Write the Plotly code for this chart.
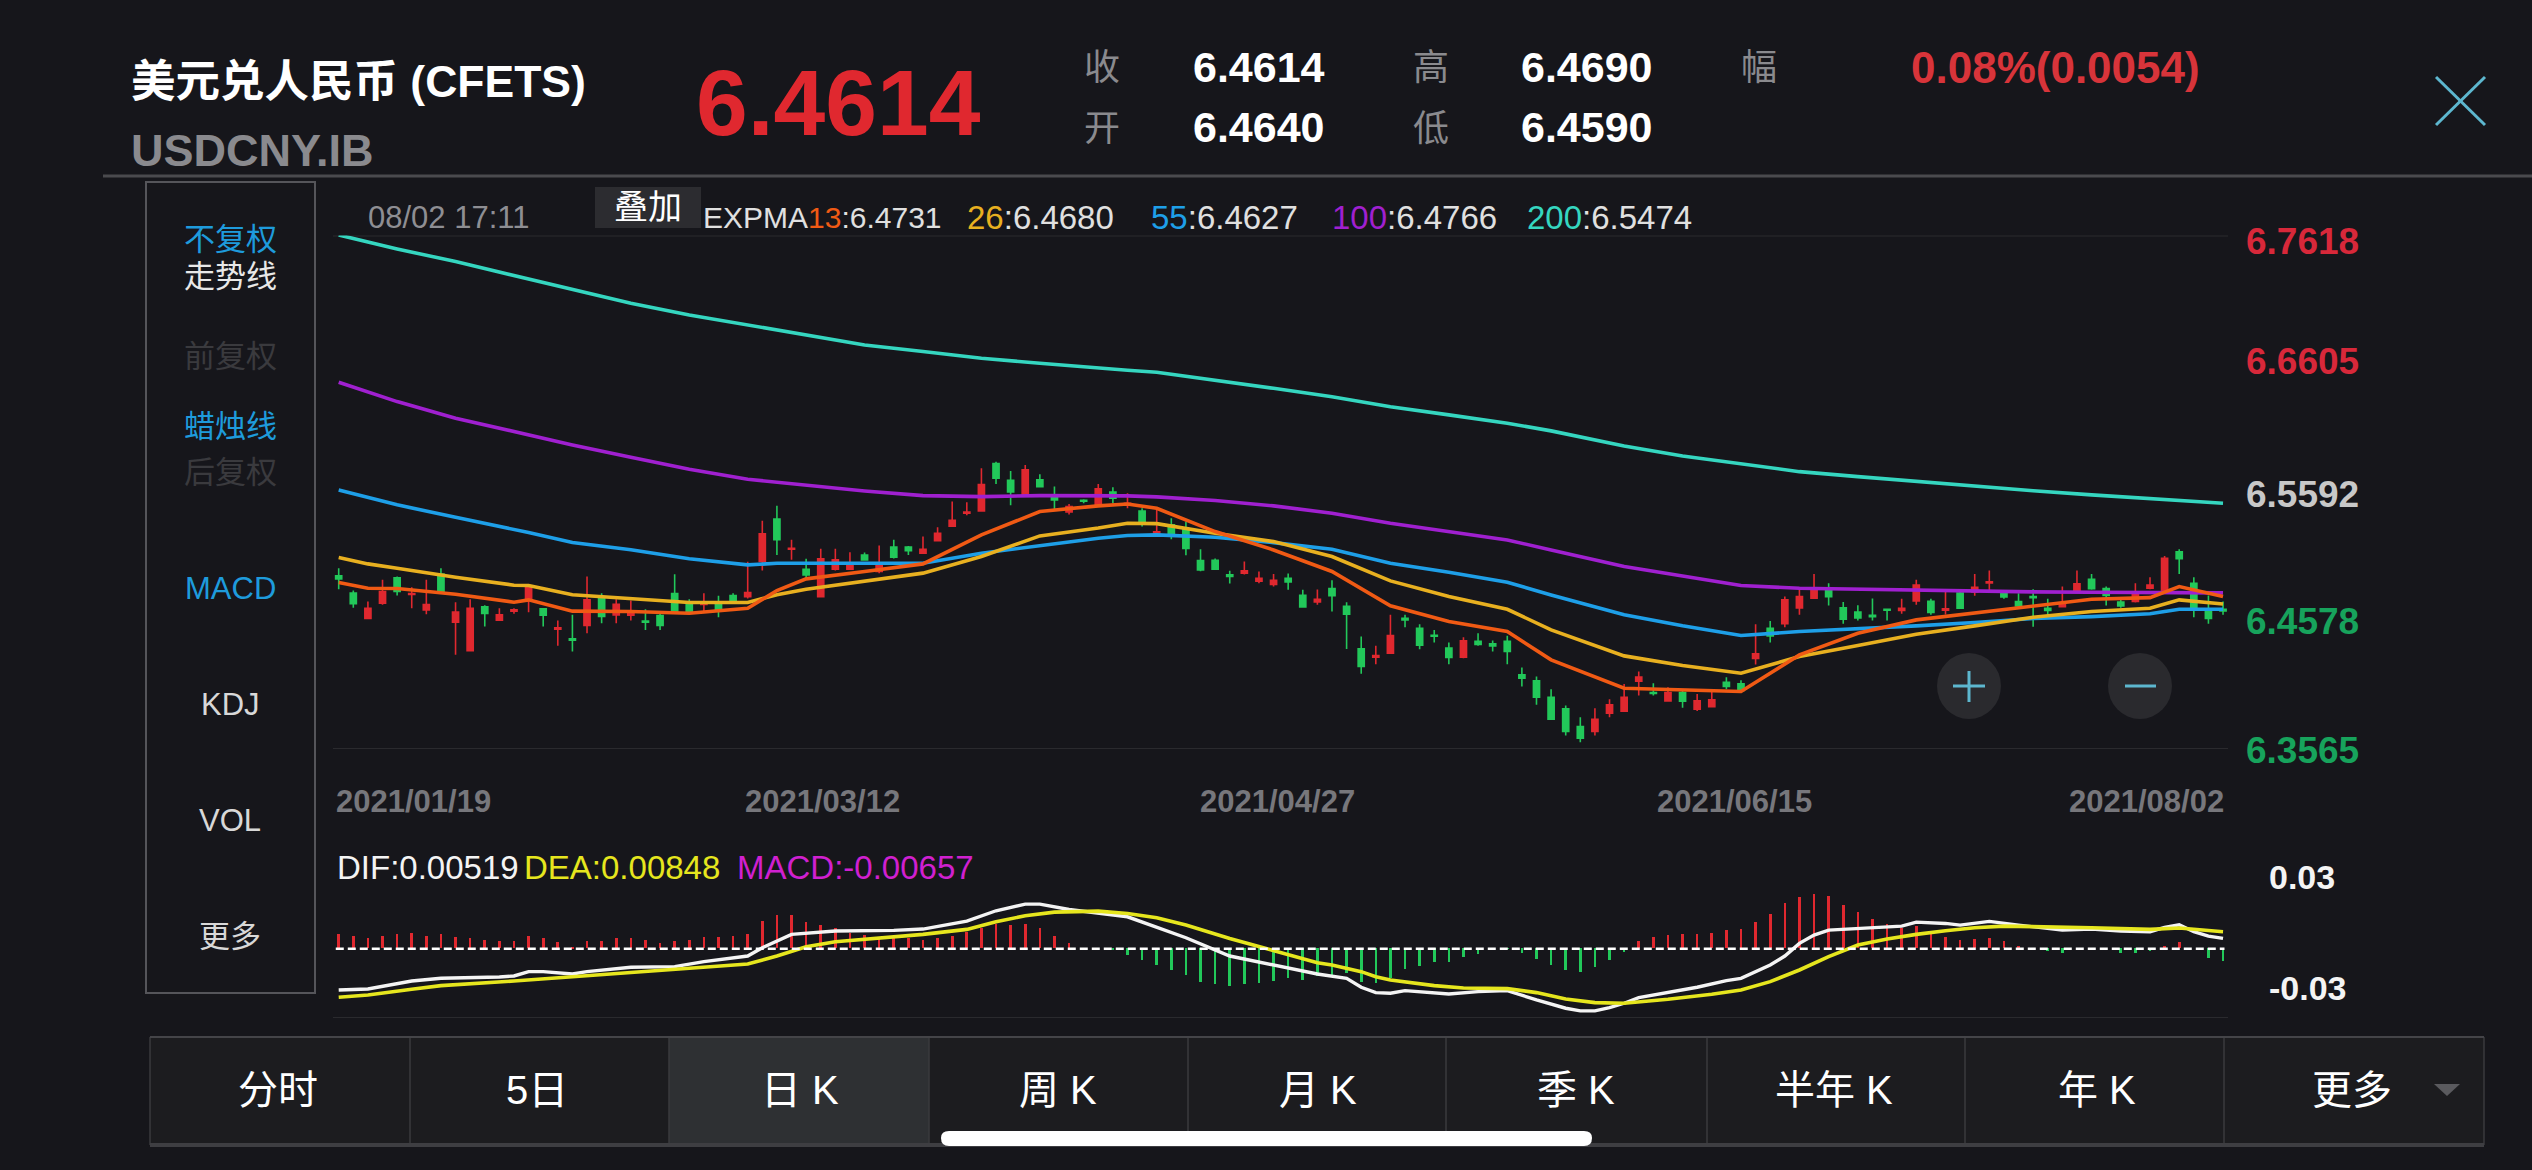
import plotly.graph_objects as go

W, H = 2532, 1170
BG = "#16161b"
RED = "#e0282f"
GREEN = "#22c85a"
CHROME_BLUE = "#1e9bdc"
ICON_BLUE = "#5db7cf"
FONT = "Liberation Sans, Noto Sans CJK SC, sans-serif"

# candles (130 sessions, 2021/01/19 to 2021/08/02)
opens = [
    6.4932, 6.4795, 6.4595, 6.4716, 6.4916, 6.4784, 6.4663, 6.4945, 6.4566, 6.4340,
    6.4687, 6.4582, 6.4653, 6.4737, 6.4671, 6.4511, 6.4434, 6.4540, 6.4763, 6.4624,
    6.4621, 6.4574, 6.4619, 6.4792, 6.4716, 6.4705, 6.4721, 6.4776, 6.4768, 6.5045,
    6.5379, 6.5142, 6.4984, 6.4768, 6.4984, 6.4984, 6.5095, 6.4966, 6.5158, 6.5158,
    6.5110, 6.5210, 6.5323, 6.5426, 6.5444, 6.5818, 6.5686, 6.5576, 6.5689, 6.5555,
    6.5436, 6.5528, 6.5492, 6.5594, 6.5494, 6.5444, 6.5268, 6.5334, 6.5305, 6.5052,
    6.5055, 6.4939, 6.4952, 6.4889, 6.4863, 6.4913, 6.4779, 6.4726, 6.4831, 6.4692,
    6.4355, 6.4290, 6.4321, 6.4597, 6.4518, 6.4463, 6.4361, 6.4290, 6.4416, 6.4395,
    6.4416, 6.4150, 6.4103, 6.3974, 6.3882, 6.3743, 6.3703, 6.3848, 6.3864, 6.4100,
    6.4011, 6.3945, 6.4011, 6.3879, 6.3898, 6.4092, 6.4079, 6.4279, 6.4518, 6.4553,
    6.4679, 6.4755, 6.4821, 6.4679, 6.4645, 6.4621, 6.4668, 6.4658, 6.4734, 6.4731,
    6.4660, 6.4795, 6.4805, 6.4876, 6.4795, 6.4729, 6.4768, 6.4676, 6.4689, 6.4808,
    6.4905, 6.4831, 6.4724, 6.4729, 6.4834, 6.4816, 6.5121, 6.4873, 6.4658, 6.4668,
]
highs = [
    6.4992, 6.4816, 6.4729, 6.4900, 6.4926, 6.4842, 6.4900, 6.4992, 6.4724, 6.4747,
    6.4700, 6.4676, 6.4676, 6.4861, 6.4676, 6.4579, 6.4624, 6.4926, 6.4795, 6.4747,
    6.4737, 6.4669, 6.4637, 6.4945, 6.4747, 6.4795, 6.4774, 6.4795, 6.5042, 6.5366,
    6.5484, 6.5216, 6.5066, 6.5145, 6.5145, 6.5118, 6.5116, 6.5171, 6.5216, 6.5168,
    6.5242, 6.5316, 6.5518, 6.5513, 6.5781, 6.5833, 6.5760, 6.5807, 6.5734, 6.5636,
    6.5499, 6.5536, 6.5657, 6.5631, 6.5584, 6.5465, 6.5452, 6.5386, 6.5360, 6.5142,
    6.5068, 6.4971, 6.5044, 6.4966, 6.4947, 6.4950, 6.4821, 6.4824, 6.4897, 6.4724,
    6.4453, 6.4379, 6.4624, 6.4624, 6.4550, 6.4505, 6.4405, 6.4447, 6.4479, 6.4421,
    6.4458, 6.4208, 6.4137, 6.4037, 6.3908, 6.3816, 6.3887, 6.3958, 6.4079, 6.4177,
    6.4084, 6.4053, 6.4032, 6.4000, 6.4032, 6.4132, 6.4108, 6.4550, 6.4576, 6.4768,
    6.4834, 6.4947, 6.4873, 6.4726, 6.4700, 6.4753, 6.4674, 6.4750, 6.4900, 6.4750,
    6.4805, 6.4821, 6.4947, 6.4973, 6.4816, 6.4795, 6.4826, 6.4750, 6.4847, 6.4973,
    6.4947, 6.4847, 6.4742, 6.4873, 6.4921, 6.5089, 6.5142, 6.4921, 6.4776, 6.4729,
]
lows = [
    6.4826, 6.4679, 6.4590, 6.4703, 6.4776, 6.4676, 6.4629, 6.4795, 6.4308, 6.4335,
    6.4532, 6.4579, 6.4632, 6.4645, 6.4532, 6.4379, 6.4335, 6.4479, 6.4558, 6.4558,
    6.4579, 6.4505, 6.4505, 6.4637, 6.4645, 6.4650, 6.4605, 6.4711, 6.4753, 6.4974,
    6.5097, 6.5058, 6.4905, 6.4763, 6.4974, 6.4979, 6.5050, 6.4953, 6.5068, 6.5097,
    6.5105, 6.5205, 6.5318, 6.5410, 6.5439, 6.5657, 6.5489, 6.5570, 6.5631, 6.5452,
    6.5415, 6.5505, 6.5484, 6.5505, 6.5465, 6.5321, 6.5263, 6.5221, 6.5094, 6.4968,
    6.4979, 6.4871, 6.4942, 6.4873, 6.4847, 6.4821, 6.4682, 6.4703, 6.4650, 6.4355,
    6.4158, 6.4234, 6.4316, 6.4526, 6.4353, 6.4405, 6.4234, 6.4282, 6.4379, 6.4334,
    6.4234, 6.4058, 6.3914, 6.3795, 6.3672, 6.3619, 6.3672, 6.3816, 6.3858, 6.3987,
    6.3987, 6.3940, 6.3890, 6.3864, 6.3893, 6.4037, 6.4021, 6.4232, 6.4405, 6.4526,
    6.4624, 6.4750, 6.4697, 6.4553, 6.4579, 6.4579, 6.4579, 6.4632, 6.4703, 6.4624,
    6.4626, 6.4671, 6.4774, 6.4816, 6.4750, 6.4684, 6.4529, 6.4624, 6.4684, 6.4802,
    6.4821, 6.4697, 6.4679, 6.4721, 6.4826, 6.4810, 6.4947, 6.4605, 6.4553, 6.4624,
]
closes = [
    6.4908, 6.4711, 6.4676, 6.4808, 6.4808, 6.4792, 6.4705, 6.4808, 6.4645, 6.4676,
    6.4634, 6.4624, 6.4663, 6.4842, 6.4621, 6.4521, 6.4424, 6.4742, 6.4611, 6.4708,
    6.4642, 6.4566, 6.4540, 6.4642, 6.4650, 6.4721, 6.4663, 6.4716, 6.4800, 6.5263,
    6.5216, 6.5150, 6.4939, 6.5066, 6.5058, 6.5018, 6.5058, 6.5013, 6.5079, 6.5131,
    6.5142, 6.5268, 6.5371, 6.5436, 6.5652, 6.5702, 6.5594, 6.5768, 6.5636, 6.5531,
    6.5478, 6.5520, 6.5618, 6.5544, 6.5505, 6.5363, 6.5279, 6.5260, 6.5147, 6.4979,
    6.4984, 6.4926, 6.4971, 6.4913, 6.4897, 6.4884, 6.4687, 6.4747, 6.4774, 6.4629,
    6.4216, 6.4303, 6.4461, 6.4584, 6.4384, 6.4455, 6.4287, 6.4419, 6.4390, 6.4379,
    6.4334, 6.4124, 6.3974, 6.3800, 6.3703, 6.3651, 6.3800, 6.3914, 6.3974, 6.4132,
    6.4003, 6.4011, 6.3942, 6.3945, 6.3953, 6.4058, 6.4027, 6.4316, 6.4458, 6.4742,
    6.4768, 6.4834, 6.4768, 6.4589, 6.4600, 6.4610, 6.4660, 6.4676, 6.4860, 6.4642,
    6.4671, 6.4676, 6.4842, 6.4884, 6.4766, 6.4695, 6.4760, 6.4658, 6.4710, 6.4868,
    6.4831, 6.4776, 6.4695, 6.4787, 6.4860, 6.5071, 6.5068, 6.4676, 6.4595, 6.4655,
]

# EXPMA lines, read at these sessions
ema_idx = [0, 2, 4, 8, 12, 13, 16, 20, 24, 28, 30, 32, 36, 40,
           44, 48, 52, 54, 56, 60, 64, 68, 72, 76, 80, 83,
           88, 92, 96, 100, 104, 108, 112, 116, 120, 124, 126, 129]
ema13 = [6.4879, 6.4834, 6.4832, 6.4787, 6.4724, 6.4742, 6.4653, 6.4650, 6.4637, 6.4676, 6.4816, 6.4908, 6.4966, 6.5026,
         6.5255, 6.5439, 6.5484, 6.5499, 6.5465, 6.5281, 6.5136, 6.4966, 6.4695, 6.4571, 6.4492, 6.4269,
         6.4045, 6.4032, 6.4019, 6.4308, 6.4479, 6.4584, 6.4637, 6.4695, 6.4747, 6.4760, 6.4847, 6.4768]
ema26 = [6.5076, 6.5026, 6.4992, 6.4921, 6.4858, 6.4855, 6.4782, 6.4755, 6.4721, 6.4721, 6.4782, 6.4826, 6.4887, 6.4953,
         6.5084, 6.5247, 6.5310, 6.5347, 6.5344, 6.5268, 6.5202, 6.5084, 6.4892, 6.4768, 6.4668, 6.4505,
         6.4300, 6.4224, 6.4163, 6.4295, 6.4382, 6.4471, 6.4537, 6.4605, 6.4650, 6.4676, 6.4742, 6.4710]
ema55 = [6.5610, 6.5552, 6.5492, 6.5394, 6.5300, 6.5273, 6.5195, 6.5137, 6.5066, 6.5018, 6.5031, 6.5031, 6.5031, 6.5031,
         6.5110, 6.5171, 6.5229, 6.5250, 6.5255, 6.5236, 6.5194, 6.5142, 6.5031, 6.4960, 6.4881, 6.4781,
         6.4624, 6.4537, 6.4461, 6.4492, 6.4511, 6.4537, 6.4563, 6.4595, 6.4610, 6.4632, 6.4668, 6.4668]
ema100 = [6.6460, 6.6386, 6.6307, 6.6176, 6.6070, 6.6044, 6.5965, 6.5868, 6.5773, 6.5694, 6.5671, 6.5650, 6.5602, 6.5565,
          6.5557, 6.5565, 6.5565, 6.5563, 6.5555, 6.5526, 6.5484, 6.5426, 6.5347, 6.5281, 6.5215, 6.5136,
          6.5005, 6.4931, 6.4855, 6.4834, 6.4826, 6.4821, 6.4810, 6.4805, 6.4802, 6.4802, 6.4802, 6.4797]
ema200 = [6.7622, 6.7567, 6.7512, 6.7412, 6.7301, 6.7275, 6.7188, 6.7083, 6.6991, 6.6912, 6.6872, 6.6833, 6.6754, 6.6702,
          6.6649, 6.6610, 6.6570, 6.6554, 6.6539, 6.6478, 6.6412, 6.6346, 6.6267, 6.6202, 6.6136, 6.6076,
          6.5957, 6.5878, 6.5813, 6.5754, 6.5715, 6.5676, 6.5642, 6.5604, 6.5571, 6.5541, 6.5526, 6.5505]
ema_colors = ["#f05a14", "#e8b020", "#1e9fe8", "#a020d0", "#35d6c0"]

# MACD panel
macd_hist = [
    0.00634, 0.00533, 0.00446, 0.00547, 0.00619, 0.00662, 0.00547, 0.00619, 0.00490, 0.00446,
    0.00374, 0.00302, 0.00331, 0.00547, 0.00446, 0.00259, 0.00058, 0.00302, 0.00302, 0.00446,
    0.00446, 0.00346, 0.00230, 0.00302, 0.00374, 0.00490, 0.00475, 0.00518, 0.00634, 0.01195,
    0.01426, 0.01426, 0.01123, 0.01022, 0.00878, 0.00662, 0.00590, 0.00490, 0.00446, 0.00446,
    0.00346, 0.00446, 0.00518, 0.00691, 0.00878, 0.01037, 0.01008, 0.01066, 0.00864, 0.00547,
    0.00230, 0, 0, -0.00072, -0.00288, -0.00518, -0.00720, -0.00922, -0.01152, -0.01469,
    -0.01555, -0.01627, -0.01541, -0.01498, -0.01397, -0.01267, -0.01354, -0.01210, -0.01138, -0.01066,
    -0.01454, -0.01498, -0.01282, -0.00878, -0.00778, -0.00605, -0.00605, -0.00389, -0.00245, -0.00086,
    -0.00014, -0.00202, -0.00446, -0.00706, -0.00922, -0.01022, -0.00821, -0.00490, -0.00144, 0.00302,
    0.00475, 0.00590, 0.00619, 0.00619, 0.00662, 0.00792, 0.00821, 0.01152, 0.01469, 0.01958,
    0.02218, 0.02362, 0.02275, 0.01886, 0.01555, 0.01282, 0.01066, 0.00878, 0.00979, 0.00662,
    0.00490, 0.00374, 0.00418, 0.00461, 0.00302, 0.00115, 0, -0.00115, -0.00202, -0.00029,
    -0.00029, -0.00029, -0.00216, -0.00216, -0.00115, 0.00115, 0.00288, 0, -0.00432, -0.00547,
]
dif_idx = [0, 2, 5, 7, 11, 12, 13, 14, 16, 17, 20, 23, 25, 28, 29, 31, 34, 38, 40, 43, 45, 47, 48, 50, 54, 58, 61, 65,
           67, 69, 70, 71, 72, 73, 75, 76, 78, 80, 82, 84, 85, 86, 87, 88, 89, 91, 93, 95, 96, 98, 99,
           100, 101, 102, 104, 106, 107, 108, 110, 111, 112, 113, 115, 116, 118, 120, 122, 124, 125, 126, 127, 128, 129]
dif = [-0.01786, -0.01742, -0.01397, -0.01282, -0.01224, -0.01181, -0.00994, -0.00994, -0.01094, -0.00994,
       -0.00806, -0.00778, -0.00562, -0.00317, 0.00043, 0.00619, 0.00763, 0.00792, 0.00850, 0.01195,
       0.01642, 0.01930, 0.01930, 0.01699, 0.01382, 0.00475, -0.00317, -0.00850,
       -0.01094, -0.01282, -0.01670, -0.01901, -0.01930, -0.01814, -0.01886, -0.01958, -0.01858, -0.01814,
       -0.02218, -0.02578, -0.02693, -0.02693, -0.02549, -0.02362, -0.02117, -0.01886, -0.01670, -0.01382,
       -0.01282, -0.00706, -0.00317, 0.00230, 0.00590, 0.00806, 0.00864, 0.00922, 0.00979, 0.01152,
       0.01094, 0.01022, 0.01094, 0.01181, 0.01022, 0.00950, 0.00806, 0.00850, 0.00763, 0.00734,
       0.00922, 0.01037, 0.00734, 0.00547, 0.00446]
dea_idx = [0, 2, 5, 7, 12, 16, 20, 25, 28, 30, 32, 34, 38, 40, 43, 45, 47, 49, 52, 54, 56, 58, 61, 63, 65,
           67, 68, 70, 71, 72, 75, 77, 80, 82, 84, 86, 88, 91, 94, 96, 98, 100, 102, 104, 106, 108, 110, 112,
           114, 116, 120, 124, 126, 129]
dea = [-0.02102, -0.02002, -0.01757, -0.01598, -0.01397, -0.01210, -0.01008, -0.00806, -0.00662, -0.00317,
       0.00086, 0.00302, 0.00518, 0.00619, 0.00835, 0.01166, 0.01426, 0.01584, 0.01627, 0.01526,
       0.01339, 0.01022, 0.00446, 0.00086, -0.00274,
       -0.00605, -0.00706, -0.00994, -0.01210, -0.01354, -0.01598, -0.01699, -0.01728, -0.01901, -0.02174,
       -0.02333, -0.02362, -0.02189, -0.01973, -0.01786, -0.01426, -0.00922, -0.00346, 0.00158, 0.00418,
       0.00619, 0.00778, 0.00907, 0.00979, 0.00965, 0.00907, 0.00835, 0.00893, 0.00734]

date_idx = [0, 33, 64, 95, 129]
date_labels = ["2021/01/19", "2021/03/12", "2021/04/27", "2021/06/15", "2021/08/02"]
price_ticks = ["6.7618", "6.6605", "6.5592", "6.4578", "6.3565"]
tab_labels = ["分时", "5日", "日 K", "周 K", "月 K", "季 K", "半年 K", "年 K", "更多"]

sessions = list(range(len(closes)))


def X(px):
    return px / W


def Y(py):
    return 1 - py / H


annotations = []
shapes = []


def label(text, x, y, size, color, anchor="left", bold=False):
    annotations.append(dict(
        text=text, xref="paper", yref="paper", x=X(x), y=Y(y),
        xanchor=anchor, yanchor="middle", showarrow=False, borderpad=0,
        font=dict(family=FONT, size=size, color=color, weight=700 if bold else 400),
    ))


def rect(x0, y0, x1, y1, fill=None, line=None, lw=0, layer="below"):
    shapes.append(dict(
        type="rect", xref="paper", yref="paper", x0=X(x0), x1=X(x1), y0=Y(y0), y1=Y(y1),
        fillcolor=fill or "rgba(0,0,0,0)", line=dict(color=line or "rgba(0,0,0,0)", width=lw), layer=layer,
    ))


def seg(x0, y0, x1, y1, color, lw):
    shapes.append(dict(
        type="line", xref="paper", yref="paper", x0=X(x0), x1=X(x1), y0=Y(y0), y1=Y(y1),
        line=dict(color=color, width=lw),
    ))


def oval(x0, y0, x1, y1, fill):
    shapes.append(dict(
        type="circle", xref="paper", yref="paper", x0=X(x0), x1=X(x1), y0=Y(y0), y1=Y(y1),
        fillcolor=fill, line=dict(width=0), layer="below",
    ))


fig = go.Figure()

fig.add_trace(go.Candlestick(
    x=sessions, open=opens, high=highs, low=lows, close=closes,
    increasing=dict(line=dict(color=RED, width=1.6), fillcolor=RED),
    decreasing=dict(line=dict(color=GREEN, width=1.6), fillcolor=GREEN),
    whiskerwidth=0, hoverinfo="skip", showlegend=False,
))
for values, color in zip([ema200, ema100, ema55, ema26, ema13], ema_colors[::-1]):
    fig.add_trace(go.Scatter(x=ema_idx, y=values, mode="lines", line=dict(color=color, width=3.6),
                             hoverinfo="skip", showlegend=False))

fig.add_trace(go.Bar(
    x=sessions, y=macd_hist, width=0.18, xaxis="x2", yaxis="y2",
    marker=dict(color=[RED if v > 0 else GREEN for v in macd_hist], line=dict(width=0)),
    hoverinfo="skip", showlegend=False,
))
fig.add_trace(go.Scatter(x=dif_idx, y=dif, mode="lines", line=dict(color="#f4f4f4", width=3.4),
                         xaxis="x2", yaxis="y2", hoverinfo="skip", showlegend=False))
fig.add_trace(go.Scatter(x=dea_idx, y=dea, mode="lines", line=dict(color="#e6e61e", width=3.6),
                         xaxis="x2", yaxis="y2", hoverinfo="skip", showlegend=False))

# header
label("美元兑人民币 (CFETS)", 130, 82, 44.5, "#ffffff", bold=True)
label("USDCNY.IB", 130, 150, 45, "#8a8a8e", bold=True)
label("6.4614", 695, 103, 93, RED, bold=True)
for text, x, y in [("收", 1102, 67), ("开", 1102, 128), ("高", 1431, 67), ("低", 1431, 128), ("幅", 1759, 67)]:
    label(text, x, y, 36, "#8a8a8e", anchor="center")
for text, x, y in [("6.4614", 1192, 67), ("6.4640", 1192, 127), ("6.4690", 1520, 67), ("6.4590", 1520, 127)]:
    label(text, x, y, 43, "#ffffff", bold=True)
label("0.08%(0.0054)", 1910, 67, 44, "#d8343a", bold=True)
seg(2436, 77, 2485, 125, ICON_BLUE, 3)
seg(2485, 77, 2436, 125, ICON_BLUE, 3)
seg(103, 176, 2532, 176, "#4a4a4e", 3)

# side menu
rect(146, 182, 315, 993, line="#55555a", lw=2)
side_menu = [("不复权", 240, CHROME_BLUE), ("走势线", 276, "#e8e8e8"), ("前复权", 356, "#3a3a3e"),
             ("蜡烛线", 426, CHROME_BLUE), ("后复权", 472, "#3a3a3e"), ("MACD", 588, CHROME_BLUE),
             ("KDJ", 704, "#d8d8d8"), ("VOL", 821, "#d8d8d8"), ("更多", 936, "#d8d8d8")]
for text, y, color in side_menu:
    label(text, 230, y, 31, color, anchor="center")

# legend rows
label("08/02 17:11", 367, 217, 31, "#8e8e93")
rect(595, 187, 701, 228, fill="#2c2c30")
label("叠加", 648, 207, 34, "#ffffff", anchor="center")
legend_items = [(702, "EXPMA", "13", ema_colors[0], "6.4731", 30), (966, "", "26", ema_colors[1], "6.4680", 33),
                (1150, "", "55", ema_colors[2], "6.4627", 33), (1331, "", "100", ema_colors[3], "6.4766", 33),
                (1526, "", "200", ema_colors[4], "6.5474", 33)]
for x, prefix, period, color, value, size in legend_items:
    label(f'{prefix}<span style="color:{color}">{period}</span>:{value}', x, 217, size, "#e0e0e0")

# price labels on the right
price_label_y = [242, 361, 494, 621, 750]
price_label_colors = ["#d8283a", "#d8283a", "#c8c8c8", "#17a35c", "#17a35c"]
for text, y, color in zip(price_ticks, price_label_y, price_label_colors):
    label(text, 2302, y, 37, color, anchor="center", bold=True)

# date labels
date_x = [335, 822, 1277, 1734, 2225]
date_anchor = ["left", "center", "center", "center", "right"]
for text, x, anchor in zip(date_labels, date_x, date_anchor):
    label(text, x, 801, 31, "#77777c", anchor=anchor, bold=True)

# macd legend and axis labels
label("DIF:0.00519", 336, 867, 33, "#f4f4f4")
label("DEA:0.00848", 523, 867, 33, "#e6e61e")
label("MACD:-0.00657", 736, 867, 33, "#d020d0")
label("0.03", 2302, 877, 34, "#f4f4f4", anchor="center", bold=True)
label("-0.03", 2308, 988, 34, "#f4f4f4", anchor="center", bold=True)
shapes.append(dict(type="line", xref="x2", yref="y2", x0=-0.2, x1=129.1, y0=0, y1=0,
                   line=dict(color="#ffffff", width=2.5, dash="8px,4px")))

# faint panel rules, drawn as shapes so they are not dropped at the axis ends
for yref, value in [("y", 6.7618), ("y", 6.3565), ("y2", -0.03)]:
    shapes.append(dict(type="line", xref="paper", yref=yref, x0=X(333), x1=X(2228), y0=value, y1=value,
                       line=dict(color="#2a2a2e", width=2), layer="below"))

# zoom buttons
oval(1937, 653, 2001, 719, "#2a2a2e")
seg(1953, 686, 1985, 686, ICON_BLUE, 3)
seg(1969, 671, 1969, 702, ICON_BLUE, 3)
oval(2108, 653, 2172, 719, "#2a2a2e")
seg(2125, 686, 2156, 686, ICON_BLUE, 3)

# bottom tabs
tab_edges = [150, 410, 669, 929, 1188, 1446, 1707, 1965, 2224, 2484]
tab_x = [278, 537, 800, 1058, 1318, 1576, 1834, 2097, 2352]
for i, (text, x) in enumerate(zip(tab_labels, tab_x)):
    rect(tab_edges[i], 1037, tab_edges[i + 1], 1145, fill="#2e3033" if i == 2 else "#1c1c1f")
    label(text, x, 1090, 40, "#ffffff", anchor="center")
for x in tab_edges:
    seg(x, 1037, x, 1145, "#3a3a3e", 1.5)
seg(150, 1037, 2484, 1037, "#444448", 2)
seg(150, 1145, 2484, 1145, "#3e3e42", 4)
shapes.append(dict(type="path", xref="paper", yref="paper", fillcolor="#5a5a5e", line=dict(width=0),
                   path=f"M {X(2434)} {Y(1084)} L {X(2460)} {Y(1084)} L {X(2447)} {Y(1096)} Z"))
# home indicator
shapes.append(dict(
    type="path", xref="paper", yref="paper", fillcolor="#ffffff", line=dict(width=0),
    path=(f"M {X(949)} {Y(1131)} L {X(1584)} {Y(1131)} Q {X(1592)} {Y(1131)} {X(1592)} {Y(1138)} "
          f"Q {X(1592)} {Y(1146)} {X(1584)} {Y(1146)} L {X(949)} {Y(1146)} "
          f"Q {X(941)} {Y(1146)} {X(941)} {Y(1138)} Q {X(941)} {Y(1131)} {X(949)} {Y(1131)} Z"),
))

x_range = [-0.39, 129.34]
x_domain = [X(333), X(2228)]
hidden_x = dict(range=x_range, domain=x_domain, showgrid=False, showticklabels=False, ticks="", zeroline=False,
                fixedrange=True)

fig.update_layout(
    width=W, height=H, margin=dict(l=0, r=0, t=0, b=0),
    paper_bgcolor=BG, plot_bgcolor=BG, showlegend=False, boxgap=0.4, bargap=0,
    xaxis=dict(hidden_x, anchor="y", rangeslider=dict(visible=False)),
    yaxis=dict(domain=[Y(749), Y(235.5)], range=[6.3565, 6.7618], showgrid=False,
               showticklabels=False, ticks="", zeroline=False, anchor="x"),
    xaxis2=dict(hidden_x, anchor="y2"),
    yaxis2=dict(domain=[Y(1018), Y(879.4)], range=[-0.03, 0.03], showgrid=False,
                showticklabels=False, ticks="", zeroline=False, anchor="x2"),
    annotations=annotations, shapes=shapes,
)

fig.write_html("out.html", config=dict(displayModeBar=False), post_script="document.body.style.margin='0';")
